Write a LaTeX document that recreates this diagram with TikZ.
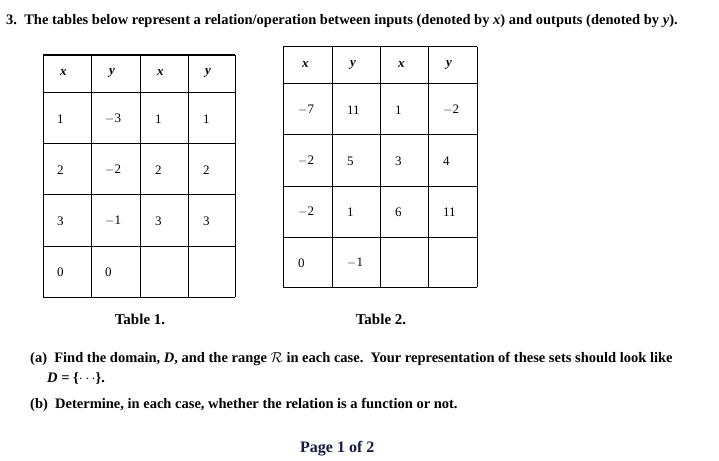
\documentclass[tikz,border=0pt]{standalone}
\usepackage{fontspec}
\setmainfont{Liberation Serif}
\begin{document}
\begin{tikzpicture}[x=1pt,y=-1pt,
  cell/.style={anchor=west,font=\fontsize{13}{15}\selectfont,inner sep=0pt},
  hd/.style={anchor=west,font=\fontsize{13}{15}\selectfont\bfseries\itshape,inner sep=0pt},
  txt/.style={anchor=base west,font=\fontsize{14.5}{17}\selectfont\bfseries,inner sep=0pt},
  grid/.style={line width=1pt,black}]
\useasboundingbox (0,0) rectangle (719,460);
\node[txt] (title) at (6,25) {3.\ \ The tables below represent a relation/operation between inputs (denoted by \textit{x}) and outputs (denoted by \textit{y}).};
% Table 1
\foreach \x in {43,91,140,188,235} \draw[grid] (\x,55) -- (\x,297);
\foreach \y in {55,92,143,194,246,297} \draw[grid] (43,\y) -- (235,\y);
\node[hd] (h1) at (60,73) {x};
\node[hd] (h2) at (109,73) {y};
\node[hd] (h3) at (157,73) {x};
\node[hd] (h4) at (205,73) {y};
\node[cell] (a11) at (57,119) {1};
\node[cell] (a12) at (105,119) {$-$3};
\node[cell] (a13) at (155,119) {1};
\node[cell] (a14) at (203,119) {1};
\node[cell] (a21) at (57,170) {2};
\node[cell] (a22) at (105,170) {$-$2};
\node[cell] (a23) at (155,170) {2};
\node[cell] (a24) at (203,170) {2};
\node[cell] (a31) at (57,221) {3};
\node[cell] (a32) at (105,221) {$-$1};
\node[cell] (a33) at (155,221) {3};
\node[cell] (a34) at (203,221) {3};
\node[cell] (a41) at (57,272) {0};
\node[cell] (a42) at (105,272) {0};
% Table 2
\foreach \x in {283,332,380,428,477} \draw[grid] (\x,47) -- (\x,287);
\foreach \y in {47,83,134,186,237,287} \draw[grid] (283,\y) -- (477,\y);
\node[hd] (g1) at (302,65) {x};
\node[hd] (g2) at (350,65) {y};
\node[hd] (g3) at (398,65) {x};
\node[hd] (g4) at (446,65) {y};
\node[cell] (b11) at (298,110) {$-$7};
\node[cell] (b12) at (347,110) {11};
\node[cell] (b13) at (395,110) {1};
\node[cell] (b14) at (443,110) {$-$2};
\node[cell] (b21) at (298,161) {$-$2};
\node[cell] (b22) at (347,161) {5};
\node[cell] (b23) at (395,161) {3};
\node[cell] (b24) at (443,161) {4};
\node[cell] (b31) at (298,212) {$-$2};
\node[cell] (b32) at (347,212) {1};
\node[cell] (b33) at (395,212) {6};
\node[cell] (b34) at (443,212) {11};
\node[cell] (b41) at (298,263) {0};
\node[cell] (b42) at (347,263) {$-$1};
\node[txt,anchor=base,font=\fontsize{15}{17}\selectfont\bfseries] (t1) at (140,324) {Table 1.};
\node[txt,anchor=base,font=\fontsize{15}{17}\selectfont\bfseries] (t2) at (381,324) {Table 2.};
\node[txt] (qa) at (30,362) {(a)\ \ Find the domain, \textit{D}, and the range $\mathcal{R}$ in each case.\ \ Your representation of these sets should look like};
\node[txt] (qa2) at (47,382) {\textit{D} = \{$\cdots$\}.};
\node[txt] (qb) at (30,408) {(b)\ \ Determine, in each case, whether the relation is a function or not.};
\node[txt,font=\fontsize{16}{18}\selectfont\bfseries,text={rgb,255:red,20;green,25;blue,70}] (pg) at (300,452) {Page 1 of 2};
\end{tikzpicture}
\end{document}
